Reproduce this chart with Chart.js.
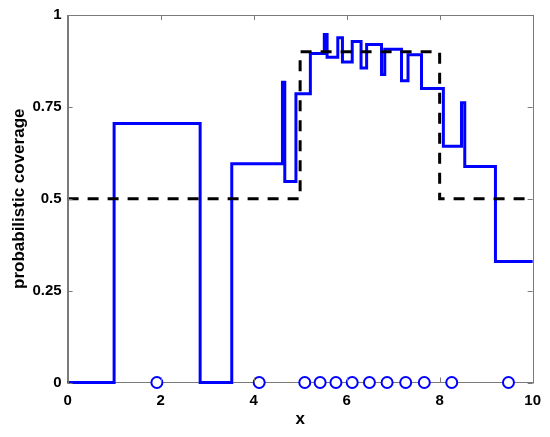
<!DOCTYPE html>
<html>
<head>
<meta charset="utf-8">
<script src="https://cdn.jsdelivr.net/npm/chart.js@4"></script>
<style>
  html, body { margin: 0; padding: 0; background: #fff; }
</style>
</head>
<body>
<canvas id="chart1" width="550" height="437"></canvas>
<script>
// step starts (x) and levels (y) of the blue coverage curve
var blueX = [0, 1.0, 2.85, 3.53, 4.62, 4.67, 4.91, 5.22, 5.52, 5.58, 5.81, 5.91, 6.12, 6.31, 6.43, 6.75, 6.82, 7.18, 7.32, 7.61, 8.08, 8.47, 8.54, 9.20, 10];
var blueY = [0, 0.705, 0, 0.595, 0.817, 0.547, 0.786, 0.895, 0.947, 0.885, 0.938, 0.872, 0.928, 0.856, 0.92, 0.838, 0.907, 0.821, 0.892, 0.80, 0.643, 0.761, 0.588, 0.329, 0.329];

// target coverage (black dashed)
var targetX = [0, 5, 8, 10];
var targetY = [0.5, 0.9, 0.5, 0.5];

// sample locations (circles on y = 0)
var sampleX = [1.92, 4.12, 5.10, 5.43, 5.77, 6.12, 6.49, 6.87, 7.27, 7.67, 8.26, 9.48];

var xTicks = [0, 2, 4, 6, 8, 10];
var yTicks = [0, 0.25, 0.5, 0.75, 1];

function toPoints(xs, ys) {
    var pts = [];
    for (var i = 0; i < xs.length; i++) {
        pts.push({x: xs[i], y: ys[i]});
    }
    return pts;
}

var samplePoints = [];
sampleX.forEach(function (x) {
    samplePoints.push({x: x, y: 0});
});

// MATLAB-style box with inward ticks
var matlabBox = {
    id: 'matlabBox',
    afterDraw: function (chart) {
        var c = chart.ctx;
        var a = chart.chartArea;
        var xs = chart.scales.x, ys = chart.scales.y;
        c.save();
        c.strokeStyle = '#7a7a7a';
        c.lineWidth = 1;
        c.setLineDash([]);
        c.beginPath();
        xTicks.forEach(function (v) {
            var px = Math.round(xs.getPixelForValue(v)) + 0.5;
            c.moveTo(px, a.bottom);
            c.lineTo(px, a.bottom - 5);
            c.moveTo(px, a.top);
            c.lineTo(px, a.top + 5);
        });
        yTicks.forEach(function (v) {
            var py = Math.round(ys.getPixelForValue(v)) + 0.5;
            c.moveTo(a.left, py);
            c.lineTo(a.left + 5, py);
            c.moveTo(a.right, py);
            c.lineTo(a.right - 5, py);
        });
        var l = Math.round(a.left) + 0.5, t = Math.round(a.top) + 0.5;
        var r = Math.round(a.right) + 0.5, b = Math.round(a.bottom) + 0.5;
        c.moveTo(l, t);
        c.lineTo(r, t);
        c.lineTo(r, b);
        c.moveTo(l, t);
        c.lineTo(l, b);
        c.stroke();
        c.restore();
    }
};

var ctx = document.getElementById('chart1').getContext('2d');

var chart = new Chart(ctx, {
    type: 'scatter',
    data: {
        datasets: [
            {
                type: 'line',
                data: toPoints(targetX, targetY),
                borderColor: '#000000',
                borderWidth: 3,
                borderDash: [11, 9],
                stepped: 'before',
                pointRadius: 0,
                fill: false,
                order: 0
            },
            {
                type: 'line',
                data: toPoints(blueX, blueY),
                borderColor: '#0000ff',
                borderWidth: 3,
                stepped: 'before',
                pointRadius: 0,
                fill: false,
                clip: 3,
                order: 1
            },
            {
                data: samplePoints,
                pointRadius: 5.5,
                pointBorderWidth: 2,
                pointBorderColor: '#0000ff',
                pointBackgroundColor: '#ffffff',
                clip: false,
                order: 2
            }
        ]
    },
    options: {
        responsive: false,
        animation: false,
        layout: {
            padding: {left: 0, top: 15, right: 17, bottom: 0}
        },
        plugins: {
            legend: {display: false},
            tooltip: {enabled: false}
        },
        scales: {
            x: {
                type: 'linear',
                min: 0,
                max: 10,
                grid: {display: true, drawOnChartArea: false, drawTicks: false, color: '#7a7a7a'},
                border: {display: true, color: '#7a7a7a', width: 1},
                afterFit: function (s) { s.height = 54.5; },
                afterBuildTicks: function (s) {
                    s.ticks = xTicks.map(function (v) { return {value: v}; });
                },
                ticks: {
                    padding: 9,
                    color: '#000',
                    maxRotation: 0,
                    font: {family: 'Liberation Sans', size: 15, weight: 'bold'}
                },
                title: {
                    display: true,
                    text: 'x',
                    color: '#000',
                    padding: {top: 0, bottom: 7},
                    font: {family: 'Liberation Sans', size: 17, weight: 'bold'}
                }
            },
            y: {
                type: 'linear',
                min: 0,
                max: 1,
                grid: {display: true, drawOnChartArea: false, drawTicks: false, color: '#7a7a7a'},
                border: {display: true, color: '#7a7a7a', width: 1},
                afterFit: function (s) { s.width = 67.6; },
                afterBuildTicks: function (s) {
                    s.ticks = yTicks.map(function (v) { return {value: v}; });
                },
                ticks: {
                    padding: 6,
                    color: '#000',
                    font: {family: 'Liberation Sans', size: 15, weight: 'bold'},
                    callback: function (v) { return String(v); }
                },
                title: {
                    display: true,
                    text: 'probabilistic coverage',
                    color: '#000',
                    padding: {top: 9, bottom: 0},
                    font: {family: 'Liberation Sans', size: 17, weight: 'bold'}
                }
            }
        }
    },
    plugins: [matlabBox]
});
</script>
</body>
</html>
